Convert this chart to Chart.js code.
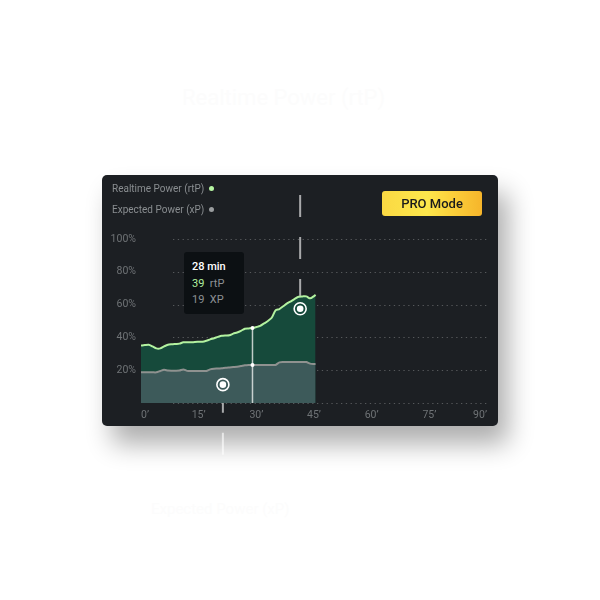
<!DOCTYPE html>
<html>
<head>
<meta charset="utf-8">
<script src="https://cdn.jsdelivr.net/npm/chart.js@4"></script>
<style>
  html, body { margin: 0; padding: 0; background: #ffffff; width: 600px; height: 600px; overflow: hidden; font-family: Roboto, "Noto Sans", sans-serif; }
  .abs { position: absolute; }
  #card { left: 102px; top: 175px; width: 396px; height: 251px; background: #1c1f23; border-radius: 5px; box-shadow: 10px 18px 26px rgba(0,0,0,0.32); z-index: 1; }
  #wrap { left: 0; top: 0; width: 600px; height: 600px; z-index: 2; pointer-events: none; }
  .leg { font-size: 10px; color: #8a8e91; line-height: 12px; z-index: 3; white-space: nowrap; }
  .dot { display: inline-block; width: 5px; height: 5px; border-radius: 50%; margin-left: 5px; vertical-align: 1px; }
  #pro { left: 382px; top: 191px; width: 100px; height: 25px; border-radius: 3px; z-index: 3;
         background: linear-gradient(90deg, #fbd943 0%, #fde74c 45%, #fbd03b 70%, #f6b52b 100%);
         color: #1b1b1b; font-size: 13px; font-weight: 500; text-align: center; line-height: 25px; }
  #tip { left: 184px; top: 252px; width: 60px; height: 62px; background: #0c1013; border-radius: 3px; z-index: 3; font-size: 11px; }
  #tip div { position: absolute; left: 8px; white-space: nowrap; line-height: 13px; }
  .faint { z-index: 0; color: #fcfcfc; white-space: nowrap; }
</style>
</head>
<body>
<div id="t1" class="abs faint" style="left:182px; top:85px; font-size:22px; line-height:26px;">Realtime Power (rtP)</div>
<div id="t2" class="abs faint" style="left:151px; top:500px; font-size:15px; line-height:18px;">Expected Power (xP)</div>

<div id="card" class="abs"></div>

<div class="abs leg" style="left:112px; top:183px;">Realtime Power (rtP)<span class="dot" style="background:#b6f5a2"></span></div>
<div class="abs leg" style="left:112px; top:204px;">Expected Power (xP)<span class="dot" style="background:#9a9d9f"></span></div>
<div id="pro" class="abs">PRO Mode</div>

<div id="wrap" class="abs"><canvas id="c"></canvas></div>

<div id="tip" class="abs">
  <div style="top:8px; color:#ffffff; font-weight:500;">28 min</div>
  <div style="top:25px;"><span style="color:#b3f2a0;">39</span>&nbsp; <span style="color:#8d9194;">rtP</span></div>
  <div style="top:41px;"><span style="color:#8d9194;">19</span>&nbsp; <span style="color:#8d9194;">XP</span></div>
</div>

<script>
// ---- data ----
const minutes   = [0,1,2,3,4,5,6,7,8,9,10,11,12,13,14,15,16,17,18,19,20,21,22,23,24,25,26,27,28,29,30,31,32,33,34,35,36,37,38,39,40,41,42,43,44,45,45.4];
const rtpValues = [35,35.3,35.5,34.5,33.3,33.3,34.5,35.5,35.8,36,36.2,37,37,37,37.2,37.3,37.4,38,38.8,39.5,40.3,41,41.2,41.3,42.3,43,44,45.3,45.5,45.7,46.3,47,48.5,50,52,56.5,57.3,59,60.7,62,63.5,64.8,65,65,63.8,65.2,66];
const xpValues  = [18.7,18.7,18.7,18.7,18.7,19.5,20.3,19.8,19.7,19.7,19.8,20.5,19.6,19.5,19.5,19.5,19.5,19.5,20.5,20.9,21,21.2,21.5,21.7,21.9,22.1,22.5,23,23.2,23.2,23.2,23.2,23.2,23.2,23.2,23.2,24.8,25,25,25,25,25,25,25,24,23.8,23.8];
const xTickValues = [0,15,30,45,60,75,90];
const yTickValues = [0,20,40,60,80,100];
const markerMinutes = [21.3, 41.4];
const markerValues  = [11.2, 57.5];
const crossMinute = 29;
const crossRtp = 45.7;
const crossXp = 23.2;

const rtpData = minutes.map((m, i) => ({x: m, y: rtpValues[i]}));
const xpData  = minutes.map((m, i) => ({x: m, y: xpValues[i]}));

const overlay = {
  id: 'overlay',
  beforeDatasetsDraw(chart) {
    const {ctx, chartArea} = chart;
    const xs = chart.scales.x, ys = chart.scales.y;
    ctx.save();
    // dotted grid
    ctx.strokeStyle = 'rgba(255,255,255,0.26)';
    ctx.lineWidth = 1;
    ctx.setLineDash([1.3, 3.5]);
    yTickValues.forEach(v => {
      const y = Math.round(ys.getPixelForValue(v)) + 0.5;
      ctx.beginPath();
      ctx.moveTo(chartArea.left + 32, y);
      ctx.lineTo(chartArea.right, y);
      ctx.stroke();
    });
    // dashed marker guides
    ctx.strokeStyle = 'rgba(255,255,255,0.62)';
    ctx.lineWidth = 2;
    ctx.setLineDash([22, 20]);
    let mx = xs.getPixelForValue(markerMinutes[1]);
    let my = ys.getPixelForValue(markerValues[1]);
    ctx.beginPath();
    ctx.moveTo(mx, chartArea.top - 44);
    ctx.lineTo(mx, my - 6);
    ctx.stroke();
    mx = xs.getPixelForValue(markerMinutes[0]);
    my = ys.getPixelForValue(markerValues[0]);
    ctx.beginPath();
    ctx.moveTo(mx, my + 6);
    ctx.lineTo(mx, chartArea.bottom + 52);
    ctx.stroke();
    ctx.restore();
  },
  afterDatasetsDraw(chart) {
    const {ctx, chartArea} = chart;
    const xs = chart.scales.x, ys = chart.scales.y;
    ctx.save();
    const cx = xs.getPixelForValue(crossMinute);
    ctx.strokeStyle = 'rgba(235,238,236,0.8)';
    ctx.lineWidth = 1.5;
    ctx.beginPath();
    ctx.moveTo(cx, ys.getPixelForValue(crossRtp));
    ctx.lineTo(cx, chartArea.bottom);
    ctx.stroke();
    ctx.fillStyle = '#ffffff';
    [crossRtp, crossXp].forEach(v => {
      ctx.beginPath();
      ctx.arc(cx, ys.getPixelForValue(v), 2, 0, Math.PI * 2);
      ctx.fill();
    });
    markerMinutes.forEach((m, i) => {
      const px = xs.getPixelForValue(m), py = ys.getPixelForValue(markerValues[i]);
      ctx.strokeStyle = '#ffffff';
      ctx.lineWidth = 1.6;
      ctx.beginPath();
      ctx.arc(px, py, 6, 0, Math.PI * 2);
      ctx.stroke();
      ctx.beginPath();
      ctx.arc(px, py, 3.3, 0, Math.PI * 2);
      ctx.fill();
    });
    ctx.restore();
  }
};

new Chart(document.getElementById('c'), {
  type: 'line',
  data: {
    datasets: [
      { label: 'Expected Power (xP)', data: xpData, borderColor: '#8f9290', borderWidth: 2,
        backgroundColor: '#3d5a5a', fill: 'origin', tension: 0.25, pointRadius: 0 },
      { label: 'Realtime Power (rtP)', data: rtpData, borderColor: '#b3f2a0', borderWidth: 2,
        backgroundColor: '#164a3b', fill: 'origin', tension: 0.25, pointRadius: 0 }
    ]
  },
  options: {
    responsive: true,
    maintainAspectRatio: false,
    animation: false,
    events: [],
    layout: { padding: { left: 101, top: 239, right: 113, bottom: 172 } },
    plugins: { legend: { display: false }, tooltip: { enabled: false } },
    scales: {
      x: {
        type: 'linear', min: 0, max: 90,
        afterBuildTicks: s => { s.ticks = xTickValues.map(v => ({value: v})); },
        afterFit: s => { s.height = 25; },
        grid: { display: false, drawTicks: false },
        border: { display: false },
        ticks: { callback: v => v + '\u2019', color: '#6f7376', font: { family: 'Roboto', size: 10.5 },
                 align: 'inner', padding: 6, maxRotation: 0, autoSkip: false }
      },
      y: {
        min: 0, max: 100,
        afterBuildTicks: s => { s.ticks = yTickValues.map(v => ({value: v})); },
        afterFit: s => { s.width = 40; },
        grid: { display: false, drawTicks: false },
        border: { display: false },
        ticks: { callback: v => v === 0 ? '' : v + '%', color: '#6f7376', font: { family: 'Roboto', size: 10.5 }, padding: 5 }
      }
    }
  },
  plugins: [overlay]
});
</script>
</body>
</html>
